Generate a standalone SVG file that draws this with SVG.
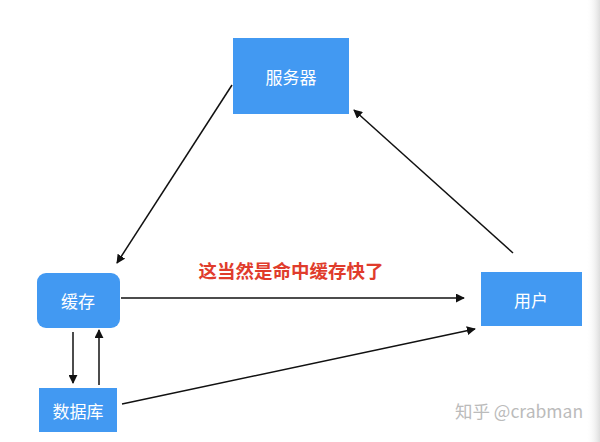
<svg xmlns="http://www.w3.org/2000/svg" width="600" height="442" viewBox="0 0 600 442">
<defs>
<marker id="ah" viewBox="0 0 10 10" refX="9" refY="5" markerWidth="9" markerHeight="9" markerUnits="userSpaceOnUse" orient="auto"><path d="M0,0 L10,5 L0,10 z" fill="#111"/></marker>
<linearGradient id="edge" x1="0" y1="0" x2="1" y2="0"><stop offset="0" stop-color="#fff" stop-opacity="0"/><stop offset="1" stop-color="#ddd"/></linearGradient>
<style>
.box{fill:#4299f2}
.lbl{font-family:"Noto Sans CJK SC","Noto Sans",sans-serif;font-size:17px;fill:#fff;text-anchor:middle;dominant-baseline:central}
.con{stroke:#111;stroke-width:1.5;fill:none;marker-end:url(#ah)}
</style>
</defs>
<rect width="600" height="442" fill="#fff"/>
<rect x="586" y="0" width="14" height="442" fill="url(#edge)"/>
<g id="server"><rect class="box" x="233" y="38" width="116" height="76"/><text class="lbl" x="291" y="76">服务器</text></g>
<g id="cache"><rect class="box" x="37" y="273" width="83" height="55" rx="9"/><text class="lbl" x="78" y="300">缓存</text></g>
<g id="db"><rect class="box" x="39" y="388" width="78" height="44"/><text class="lbl" x="78" y="410">数据库</text></g>
<g id="user"><rect class="box" x="481" y="272" width="101" height="54"/><text class="lbl" x="531" y="299">用户</text></g>
<g id="connectors">
<line class="con" x1="232" y1="85" x2="117" y2="263"/>
<line class="con" x1="513" y1="253" x2="354" y2="110"/>
<line class="con" x1="121" y1="298" x2="464" y2="298"/>
<line class="con" x1="73" y1="332" x2="73" y2="383"/>
<line class="con" x1="99" y1="385" x2="99" y2="330"/>
<line class="con" x1="122" y1="404" x2="475" y2="329"/>
</g>
<text x="291" y="270" font-family="Noto Sans CJK SC,sans-serif" font-size="18.5" font-weight="bold" fill="#e03c2c" text-anchor="middle" dominant-baseline="central">这当然是命中缓存快了</text>
<text x="519" y="418" font-family="Noto Sans CJK SC,sans-serif" font-size="17.5" fill="#bbb" text-anchor="middle">知乎 @crabman</text>
</svg>
